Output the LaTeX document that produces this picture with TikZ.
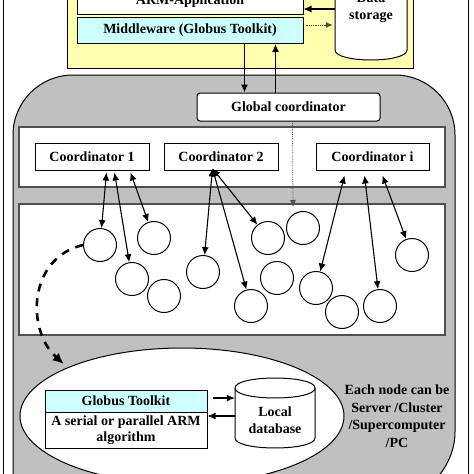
\documentclass[tikz,border=0pt]{standalone}
\usepackage{fontspec}
\setmainfont{Liberation Serif}
\usetikzlibrary{arrows.meta,calc,shapes.geometric}
\definecolor{yel}{RGB}{255,255,175}
\definecolor{cy}{RGB}{204,255,255}
\definecolor{gr}{RGB}{192,192,192}
\definecolor{pan}{RGB}{80,80,80}
\tikzset{
  box/.style={draw, line width=1pt, font=\fontsize{14}{16}\selectfont\bfseries, inner sep=0pt, align=center},
  circ/.style={circle, draw, line width=1pt, fill=white, minimum size=33pt, inner sep=0pt},
  arr/.style={line width=1.1pt, -{Latex[length=8pt,width=7pt]}},
  darr/.style={line width=1.1pt, {Latex[length=8pt,width=7pt]}-{Latex[length=8pt,width=7pt]}},
  dotarr/.style={line width=0.8pt, densely dotted, draw=black!70, -{Latex[length=7pt,width=6pt]}},
  txt/.style={font=\fontsize{14}{17.5}\selectfont\bfseries, align=center, inner sep=0pt},
  panel/.style={draw=pan, line width=1.2pt, fill=white}
}
\begin{document}
\begin{tikzpicture}[x=1pt,y=-1pt]
\useasboundingbox (0,0) rectangle (474,474);
\clip (0,0) rectangle (474,474);
\fill[white] (0,0) rectangle (474,474);
% outer frame
\draw[line width=1pt] (3,-10) rectangle (468,490);
% yellow area
\draw[fill=yel, line width=1pt] (67,-20) rectangle (413,68);
\node[box, fill=white, minimum width=226pt, minimum height=26pt] (arm) at (190,1) {ARM-Application};
\node[box, fill=cy, minimum width=226pt, minimum height=26pt] (mw) at (190,30.5) {Middleware (Globus Toolkit)};
% data storage cylinder
\draw[fill=white, line width=1pt] (335,-40) -- (335,50) .. controls (335,63.3) and (407,63.3) .. (407,50) -- (407,-40);
\node[txt, minimum width=72pt] (stor) at (371,8) {Data\\storage};
\draw[arr] ($(stor.west)+(0,1)$) -- ($(arm.east)+(0,8)$);
\draw[dotarr] ($(mw.east)+(2,-5.5)$) -- ($(stor.west)+(-2,17)$);
% grey region
\draw[fill=gr, line width=1pt, rounded corners=60pt] (13,560) -- (13,75) -- (455,75) -- (455,492) -- cycle;
\node[box, fill=white, rounded corners=3pt, minimum width=183pt, minimum height=28pt] (glob) at (288.5,107) {Global coordinator};
\draw[arr] ($(mw.south west)+(168,0)$) -- ($(glob.north west)+(48,0)$);
\draw[arr] ($(glob.north west)+(79,0)$) -- ($(mw.south west)+(199,0)$);
% panels
\draw[panel] (19,127) rectangle (445,187);
\draw[panel] (19,204) rectangle (445,335);
\node[box, minimum width=114pt, minimum height=27pt] (co1) at (92,156.5) {Coordinator 1};
\node[box, minimum width=114pt, minimum height=27pt] (co2) at (221,156.5) {Coordinator 2};
\node[box, minimum width=113pt, minimum height=27pt] (coi) at (372.5,156.5) {Coordinator i};
% circles
\node[circ] (c1) at (100,245) {};
\node[circ] (c2) at (154,238) {};
\node[circ] (c3) at (132,279) {};
\node[circ] (c4) at (164,296) {};
\node[circ] (c5) at (203,272) {};
\node[circ] (c6) at (251,306) {};
\node[circ] (c7) at (268,238) {};
\node[circ] (c8) at (303,228) {};
\node[circ] (c9) at (277,278) {};
\node[circ] (c10) at (316,288) {};
\node[circ] (c11) at (342,312) {};
\node[circ] (c12) at (380,306) {};
\node[circ] (c13) at (412,255) {};
% coordinator links
\draw[darr] ($(co1.south west)+(72,2)$) -- (c1);
\draw[darr] ($(co1.south west)+(80,2)$) -- (c3);
\draw[darr] ($(co1.south west)+(96,2)$) -- (c2);
\draw[darr] ($(co2.south west)+(49,-2)$) -- (c5);
\draw[darr] ($(co2.south west)+(49,-2)$) -- (c6);
\draw[darr] ($(co2.south west)+(49,-2)$) -- (c7);
\draw[darr] ($(coi.south west)+(29,5)$) -- (c10);
\draw[darr] ($(coi.south west)+(49,5)$) -- (c12);
\draw[darr] ($(coi.south west)+(67,5)$) -- (c13);
\coordinate (dotend) at (293,207);
\draw[dotarr] ($(glob.south west)+(96,0)$) -- (dotend);
% node ellipse
\node[ellipse, draw, fill=white, line width=1pt, minimum width=324pt, minimum height=136pt, inner sep=0pt] (ell) at (182,416) {};
\draw[line width=2.6pt, dash pattern=on 8pt off 7pt, -{Latex[length=11pt,width=10pt]}, shorten >=5pt] (c1.west) .. controls (28,258) and (26,330) .. (ell.157);
\node[box, fill=cy, minimum width=162pt, minimum height=22pt] (gt) at (126,401) {Globus Toolkit};
\node[box, fill=white, minimum width=162pt, minimum height=36pt, font=\fontsize{14}{15.5}\selectfont\bfseries] (alg) at (126,430) {A serial or parallel ARM\\algorithm};
% local database cylinder
\draw[fill=white, line width=1pt] (235,388) -- (235,438) .. controls (235,451.3) and (315,451.3) .. (315,438) -- (315,388) .. controls (315,374.7) and (235,374.7) .. (235,388) -- cycle;
\draw[line width=1pt] (235,388) .. controls (235,401.3) and (315,401.3) .. (315,388);
\node[txt, minimum width=80pt] (locdb) at (275,420) {Local\\database};
\draw[arr] ($(gt.east)+(5,-3)$) -- ($(locdb.west)+(0,-22)$);
\draw[arr] ($(locdb.west)+(0,-4)$) -- ($(alg.east)+(0,-14)$);
\node[txt] (note) at (397,416) {Each node can be\\Server /Cluster\\/Supercomputer\\/PC};
\end{tikzpicture}
\end{document}
